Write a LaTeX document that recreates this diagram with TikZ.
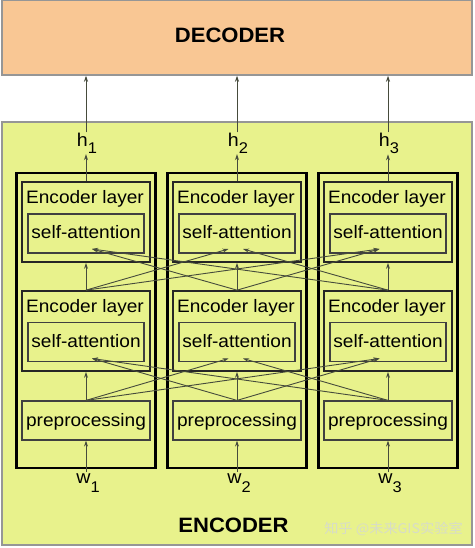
\documentclass[tikz,border=0pt]{standalone}
\usepackage{fontspec}
\setmainfont{Liberation Sans}[FakeStretch=1.06]
\newfontfamily\cjkfont{Noto Sans CJK SC}[FakeStretch=1.06]
\usetikzlibrary{arrows.meta}
\definecolor{decfill}{RGB}{249,199,148}
\definecolor{encfill}{RGB}{232,242,140}
\definecolor{framegray}{RGB}{150,150,150}
\definecolor{linegray}{RGB}{70,75,60}
\definecolor{markgray}{RGB}{215,220,200}

\newcommand{\sublab}[3]{#1\raisebox{#3}{\fontsize{15.5}{16}\selectfont #2}}

\tikzset{
  bigbox/.style={draw=framegray, line width=1.5pt, inner sep=0pt},
  colbox/.style={draw=black, line width=2.4pt, minimum width=139pt, minimum height=295pt, inner sep=0pt},
  encbox/.style={draw=black!85, line width=1.7pt, minimum width=128pt, minimum height=80pt, inner sep=0pt},
  sabox/.style={draw=black!75, line width=1.2pt, minimum width=116pt, minimum height=39pt, inner sep=0pt},
  prebox/.style={draw=black!75, line width=1.2pt, minimum width=128pt, minimum height=39pt, inner sep=0pt},
  txt/.style={font=\fontsize{18}{20}\selectfont, inner sep=0pt, anchor=base},
  lab/.style={font=\fontsize{18.5}{20}\selectfont, inner sep=1pt, anchor=base},
  title/.style={font=\fontsize{20.8}{24}\selectfont\bfseries, inner sep=0pt, anchor=base},
  conn/.style={draw=linegray, line width=0.9pt, -{Stealth[length=6pt,width=4pt]}},
}

\begin{document}
\begin{tikzpicture}[x=1pt,y=-1pt]
    \useasboundingbox (0,0) rectangle (474,548);
    \node[bigbox, fill=decfill, minimum width=470pt, minimum height=75pt] (dec) at (237,37.5) {};
    \node[title] (dectext) at (230,43) {DECODER};
    \node[bigbox, fill=encfill, minimum width=470pt, minimum height=423pt] (enc) at (237,333.5) {};
    \node[title] (enctext) at (233.5,532) {ENCODER};
    \node[font=\cjkfont\fontsize{13.4}{14}\selectfont, text=markgray, inner sep=0pt, anchor=base] (mark) at (393.5,533) {知乎 @未来GIS实验室};

    % one column per word
    \foreach \i/\c in {1/86,2/237,3/388} {
        \node[colbox] (col\i) at (\c,320.5) {};
        \node[encbox] (elu\i) at (\c,222) {};
        \node[txt] (elut\i) at (\c-1,203.5) {Encoder layer};
        \node[sabox] (sau\i) at (\c,233.5) {};
        \node[txt] (saut\i) at (\c,238.5) {self-attention};
        \node[encbox] (ell\i) at (\c,331) {};
        \node[txt] (ellt\i) at (\c-1,312.5) {Encoder layer};
        \node[sabox] (sal\i) at (\c,342) {};
        \node[txt] (salt\i) at (\c,347.5) {self-attention};
        \node[prebox] (pre\i) at (\c,420.5) {};
        \node[txt] (pret\i) at (\c,426) {preprocessing};
        \node[lab] (h\i) at (\c+1,147) {\sublab{h}{\i}{-6pt}};
        \node[lab] (w\i) at (\c+2,483) {\sublab{w}{\i}{-9pt}};
        \coordinate (uL\i) at (\c-8.5,249);
        \coordinate (uR\i) at (\c+6,249);
        \coordinate (lL\i) at (\c-8.5,358.5);
        \coordinate (lR\i) at (\c+6,358.5);

        \draw[conn] (elu\i.north) -- (elu\i.north |- h\i.south);
        \draw[conn] (elu\i.north |- h\i.north) -- (elu\i.north |- dec.south);
        \draw[conn] (ell\i.north) -- (elu\i.south);
        \draw[conn] (pre\i.north) -- (ell\i.south);
        \draw[conn] (pre\i.south |- w\i.north) -- (pre\i.south);
    }

    % attention to the other words
    \foreach \s/\t/\sd in {1/2/L,1/3/L,2/1/R,2/3/L,3/1/R,3/2/R} {
        \draw[conn] (ell\s.north) -- (u\sd\t);
        \draw[conn] (pre\s.north) -- (l\sd\t);
    }
\end{tikzpicture}
\end{document}
